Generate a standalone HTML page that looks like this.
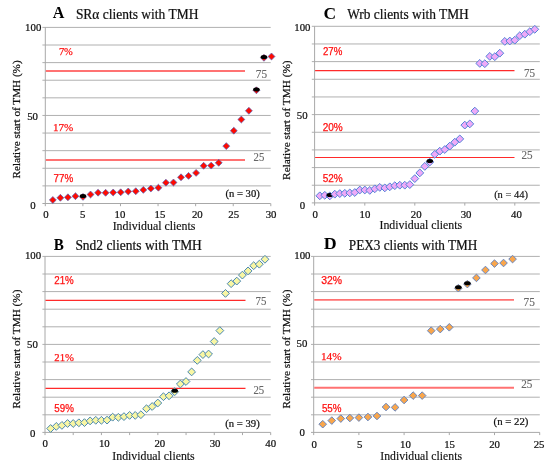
<!DOCTYPE html><html><head><meta charset="utf-8"><style>html,body{margin:0;padding:0;background:#fff;}svg{display:block;will-change:transform;}</style></head><body>
<svg width="550" height="468" viewBox="0 0 550 468">
<rect width="550" height="468" fill="#fff"/>
<line x1="42.4" y1="185.89" x2="270.7" y2="185.89" stroke="#b0b0b0" stroke-width="1"/>
<line x1="42.4" y1="168.28" x2="270.7" y2="168.28" stroke="#b0b0b0" stroke-width="1"/>
<line x1="42.4" y1="150.67" x2="270.7" y2="150.67" stroke="#b0b0b0" stroke-width="1"/>
<line x1="42.4" y1="133.06" x2="270.7" y2="133.06" stroke="#b0b0b0" stroke-width="1"/>
<line x1="42.4" y1="115.45" x2="270.7" y2="115.45" stroke="#b0b0b0" stroke-width="1"/>
<line x1="42.4" y1="97.84" x2="270.7" y2="97.84" stroke="#b0b0b0" stroke-width="1"/>
<line x1="42.4" y1="80.23" x2="270.7" y2="80.23" stroke="#b0b0b0" stroke-width="1"/>
<line x1="42.4" y1="62.62" x2="270.7" y2="62.62" stroke="#b0b0b0" stroke-width="1"/>
<line x1="42.4" y1="45.01" x2="270.7" y2="45.01" stroke="#b0b0b0" stroke-width="1"/>
<line x1="42.4" y1="27.4" x2="270.7" y2="27.4" stroke="#b0b0b0" stroke-width="1"/>
<line x1="42.4" y1="203.5" x2="270.7" y2="203.5" stroke="#a8a8a8" stroke-width="1"/>
<line x1="45.3" y1="27.4" x2="45.3" y2="206.2" stroke="#a8a8a8" stroke-width="1"/>
<line x1="82.88" y1="203.5" x2="82.88" y2="206.2" stroke="#a8a8a8" stroke-width="1"/>
<line x1="120.47" y1="203.5" x2="120.47" y2="206.2" stroke="#a8a8a8" stroke-width="1"/>
<line x1="158.05" y1="203.5" x2="158.05" y2="206.2" stroke="#a8a8a8" stroke-width="1"/>
<line x1="195.63" y1="203.5" x2="195.63" y2="206.2" stroke="#a8a8a8" stroke-width="1"/>
<line x1="233.22" y1="203.5" x2="233.22" y2="206.2" stroke="#a8a8a8" stroke-width="1"/>
<line x1="270.8" y1="203.5" x2="270.8" y2="206.2" stroke="#a8a8a8" stroke-width="1"/>
<line x1="45.8" y1="71" x2="245" y2="71" stroke="#ff7272" stroke-width="1.9"/>
<line x1="45.8" y1="160" x2="245" y2="160" stroke="#ff7272" stroke-width="1.9"/>
<text x="33.2" y="30.7" font-size="10.8" font-family='"Liberation Serif", serif' fill="#111" stroke="#111" stroke-width="0.22" text-anchor="middle">100</text>
<text x="32.6" y="119.5" font-size="10.8" font-family='"Liberation Serif", serif' fill="#111" stroke="#111" stroke-width="0.22" text-anchor="middle">50</text>
<text x="33.05" y="208.7" font-size="10.8" font-family='"Liberation Serif", serif' fill="#111" stroke="#111" stroke-width="0.22" text-anchor="middle">0</text>
<text x="45.9" y="218.1" font-size="10.8" font-family='"Liberation Serif", serif' fill="#111" stroke="#111" stroke-width="0.22" text-anchor="middle">0</text>
<text x="82.8" y="218.1" font-size="10.8" font-family='"Liberation Serif", serif' fill="#111" stroke="#111" stroke-width="0.22" text-anchor="middle">5</text>
<text x="120" y="218.1" font-size="10.8" font-family='"Liberation Serif", serif' fill="#111" stroke="#111" stroke-width="0.22" text-anchor="middle">10</text>
<text x="160" y="218.1" font-size="10.8" font-family='"Liberation Serif", serif' fill="#111" stroke="#111" stroke-width="0.22" text-anchor="middle">15</text>
<text x="197.3" y="218.1" font-size="10.8" font-family='"Liberation Serif", serif' fill="#111" stroke="#111" stroke-width="0.22" text-anchor="middle">20</text>
<text x="233.7" y="218.1" font-size="10.8" font-family='"Liberation Serif", serif' fill="#111" stroke="#111" stroke-width="0.22" text-anchor="middle">25</text>
<text x="271.1" y="218.1" font-size="10.8" font-family='"Liberation Serif", serif' fill="#111" stroke="#111" stroke-width="0.22" text-anchor="middle">30</text>
<text x="0" y="0" font-size="11.3" font-family='"Liberation Serif", serif' fill="#111" stroke="#111" stroke-width="0.22" textLength="118" lengthAdjust="spacingAndGlyphs" transform="translate(19.9,178.4) rotate(-90)">Relative start of TMH (%)</text>
<polygon points="52.84,196.55 56.29,200 52.84,203.45 49.39,200" fill="#ff0a00" stroke="#5a64b8" stroke-width="0.75"/>
<polygon points="60.38,194.35 63.83,197.8 60.38,201.25 56.93,197.8" fill="#ff0a00" stroke="#5a64b8" stroke-width="0.75"/>
<polygon points="67.92,193.85 71.37,197.3 67.92,200.75 64.47,197.3" fill="#ff0a00" stroke="#5a64b8" stroke-width="0.75"/>
<polygon points="75.46,192.75 78.91,196.2 75.46,199.65 72.01,196.2" fill="#ff0a00" stroke="#5a64b8" stroke-width="0.75"/>
<polygon points="83,193.45 86.45,196.9 83,200.35 79.55,196.9" fill="#ff0a00" stroke="#5a64b8" stroke-width="0.75"/>
<ellipse cx="83" cy="196" rx="3.3" ry="2.0" fill="#000"/>
<polygon points="90.54,191.05 93.99,194.5 90.54,197.95 87.09,194.5" fill="#ff0a00" stroke="#5a64b8" stroke-width="0.75"/>
<polygon points="98.08,189.25 101.53,192.7 98.08,196.15 94.63,192.7" fill="#ff0a00" stroke="#5a64b8" stroke-width="0.75"/>
<polygon points="105.62,189.35 109.07,192.8 105.62,196.25 102.17,192.8" fill="#ff0a00" stroke="#5a64b8" stroke-width="0.75"/>
<polygon points="113.16,189.05 116.61,192.5 113.16,195.95 109.71,192.5" fill="#ff0a00" stroke="#5a64b8" stroke-width="0.75"/>
<polygon points="120.7,188.85 124.15,192.3 120.7,195.75 117.25,192.3" fill="#ff0a00" stroke="#5a64b8" stroke-width="0.75"/>
<polygon points="128.24,188.05 131.69,191.5 128.24,194.95 124.79,191.5" fill="#ff0a00" stroke="#5a64b8" stroke-width="0.75"/>
<polygon points="135.78,187.75 139.23,191.2 135.78,194.65 132.33,191.2" fill="#ff0a00" stroke="#5a64b8" stroke-width="0.75"/>
<polygon points="143.32,186.45 146.77,189.9 143.32,193.35 139.87,189.9" fill="#ff0a00" stroke="#5a64b8" stroke-width="0.75"/>
<polygon points="150.86,185.05 154.31,188.5 150.86,191.95 147.41,188.5" fill="#ff0a00" stroke="#5a64b8" stroke-width="0.75"/>
<polygon points="158.4,184.25 161.85,187.7 158.4,191.15 154.95,187.7" fill="#ff0a00" stroke="#5a64b8" stroke-width="0.75"/>
<polygon points="165.94,179.25 169.39,182.7 165.94,186.15 162.49,182.7" fill="#ff0a00" stroke="#5a64b8" stroke-width="0.75"/>
<polygon points="173.48,179.05 176.93,182.5 173.48,185.95 170.03,182.5" fill="#ff0a00" stroke="#5a64b8" stroke-width="0.75"/>
<polygon points="181.02,173.85 184.47,177.3 181.02,180.75 177.57,177.3" fill="#ff0a00" stroke="#5a64b8" stroke-width="0.75"/>
<polygon points="188.56,172.45 192.01,175.9 188.56,179.35 185.11,175.9" fill="#ff0a00" stroke="#5a64b8" stroke-width="0.75"/>
<polygon points="196.1,169.45 199.55,172.9 196.1,176.35 192.65,172.9" fill="#ff0a00" stroke="#5a64b8" stroke-width="0.75"/>
<polygon points="203.64,162.35 207.09,165.8 203.64,169.25 200.19,165.8" fill="#ff0a00" stroke="#5a64b8" stroke-width="0.75"/>
<polygon points="211.18,162.15 214.63,165.6 211.18,169.05 207.73,165.6" fill="#ff0a00" stroke="#5a64b8" stroke-width="0.75"/>
<polygon points="218.72,159.35 222.17,162.8 218.72,166.25 215.27,162.8" fill="#ff0a00" stroke="#5a64b8" stroke-width="0.75"/>
<polygon points="226.26,142.65 229.71,146.1 226.26,149.55 222.81,146.1" fill="#ff0a00" stroke="#5a64b8" stroke-width="0.75"/>
<polygon points="233.8,127.25 237.25,130.7 233.8,134.15 230.35,130.7" fill="#ff0a00" stroke="#5a64b8" stroke-width="0.75"/>
<polygon points="241.34,116.05 244.79,119.5 241.34,122.95 237.89,119.5" fill="#ff0a00" stroke="#5a64b8" stroke-width="0.75"/>
<polygon points="248.88,107.35 252.33,110.8 248.88,114.25 245.43,110.8" fill="#ff0a00" stroke="#5a64b8" stroke-width="0.75"/>
<polygon points="256.42,86.85 259.87,90.3 256.42,93.75 252.97,90.3" fill="#ff0a00" stroke="#5a64b8" stroke-width="0.75"/>
<ellipse cx="256.42" cy="89.4" rx="3.3" ry="2.0" fill="#000"/>
<polygon points="263.96,54.35 267.41,57.8 263.96,61.25 260.51,57.8" fill="#ff0a00" stroke="#5a64b8" stroke-width="0.75"/>
<ellipse cx="263.96" cy="56.9" rx="3.3" ry="2.0" fill="#000"/>
<polygon points="271.5,53.05 274.95,56.5 271.5,59.95 268.05,56.5" fill="#ff0a00" stroke="#5a64b8" stroke-width="0.75"/>
<line x1="311.8" y1="185.24" x2="539.8" y2="185.24" stroke="#b0b0b0" stroke-width="1"/>
<line x1="311.8" y1="167.58" x2="539.8" y2="167.58" stroke="#b0b0b0" stroke-width="1"/>
<line x1="311.8" y1="149.92" x2="539.8" y2="149.92" stroke="#b0b0b0" stroke-width="1"/>
<line x1="311.8" y1="132.26" x2="539.8" y2="132.26" stroke="#b0b0b0" stroke-width="1"/>
<line x1="311.8" y1="114.6" x2="539.8" y2="114.6" stroke="#b0b0b0" stroke-width="1"/>
<line x1="311.8" y1="96.94" x2="539.8" y2="96.94" stroke="#b0b0b0" stroke-width="1"/>
<line x1="311.8" y1="79.28" x2="539.8" y2="79.28" stroke="#b0b0b0" stroke-width="1"/>
<line x1="311.8" y1="61.62" x2="539.8" y2="61.62" stroke="#b0b0b0" stroke-width="1"/>
<line x1="311.8" y1="43.96" x2="539.8" y2="43.96" stroke="#b0b0b0" stroke-width="1"/>
<line x1="311.8" y1="26.3" x2="539.8" y2="26.3" stroke="#b0b0b0" stroke-width="1"/>
<line x1="311.8" y1="202.9" x2="539.8" y2="202.9" stroke="#a8a8a8" stroke-width="1"/>
<line x1="314.6" y1="26.3" x2="314.6" y2="205.6" stroke="#a8a8a8" stroke-width="1"/>
<line x1="364.8" y1="202.9" x2="364.8" y2="205.6" stroke="#a8a8a8" stroke-width="1"/>
<line x1="414.8" y1="202.9" x2="414.8" y2="205.6" stroke="#a8a8a8" stroke-width="1"/>
<line x1="464.8" y1="202.9" x2="464.8" y2="205.6" stroke="#a8a8a8" stroke-width="1"/>
<line x1="514.8" y1="202.9" x2="514.8" y2="205.6" stroke="#a8a8a8" stroke-width="1"/>
<line x1="315.1" y1="70.6" x2="514.5" y2="70.6" stroke="#ff2a2a" stroke-width="1.2"/>
<line x1="315.1" y1="157.5" x2="514.5" y2="157.5" stroke="#ff2a2a" stroke-width="1.2"/>
<text x="302.4" y="30.5" font-size="10.8" font-family='"Liberation Serif", serif' fill="#111" stroke="#111" stroke-width="0.22" text-anchor="middle">100</text>
<text x="302.2" y="119.1" font-size="10.8" font-family='"Liberation Serif", serif' fill="#111" stroke="#111" stroke-width="0.22" text-anchor="middle">50</text>
<text x="302.5" y="208.6" font-size="10.8" font-family='"Liberation Serif", serif' fill="#111" stroke="#111" stroke-width="0.22" text-anchor="middle">0</text>
<text x="315.3" y="218.2" font-size="10.8" font-family='"Liberation Serif", serif' fill="#111" stroke="#111" stroke-width="0.22" text-anchor="middle">0</text>
<text x="365" y="218.2" font-size="10.8" font-family='"Liberation Serif", serif' fill="#111" stroke="#111" stroke-width="0.22" text-anchor="middle">10</text>
<text x="416.2" y="218.2" font-size="10.8" font-family='"Liberation Serif", serif' fill="#111" stroke="#111" stroke-width="0.22" text-anchor="middle">20</text>
<text x="466.1" y="218.2" font-size="10.8" font-family='"Liberation Serif", serif' fill="#111" stroke="#111" stroke-width="0.22" text-anchor="middle">30</text>
<text x="516.5" y="218.2" font-size="10.8" font-family='"Liberation Serif", serif' fill="#111" stroke="#111" stroke-width="0.22" text-anchor="middle">40</text>
<text x="0" y="0" font-size="11.3" font-family='"Liberation Serif", serif' fill="#111" stroke="#111" stroke-width="0.22" textLength="119.5" lengthAdjust="spacingAndGlyphs" transform="translate(289.9,179.9) rotate(-90)">Relative start of TMH (%)</text>
<polygon points="319.8,191.9 323.7,195.8 319.8,199.7 315.9,195.8" fill="#eeaaf8" stroke="#5382d8" stroke-width="1"/>
<polygon points="324.8,191.4 328.7,195.3 324.8,199.2 320.9,195.3" fill="#eeaaf8" stroke="#5382d8" stroke-width="1"/>
<polygon points="329.8,192 333.7,195.9 329.8,199.8 325.9,195.9" fill="#eeaaf8" stroke="#5382d8" stroke-width="1"/>
<ellipse cx="329.8" cy="195" rx="3.3" ry="2.0" fill="#000"/>
<polygon points="334.8,190.3 338.7,194.2 334.8,198.1 330.9,194.2" fill="#eeaaf8" stroke="#5382d8" stroke-width="1"/>
<polygon points="339.8,189.7 343.7,193.6 339.8,197.5 335.9,193.6" fill="#eeaaf8" stroke="#5382d8" stroke-width="1"/>
<polygon points="344.8,189.4 348.7,193.3 344.8,197.2 340.9,193.3" fill="#eeaaf8" stroke="#5382d8" stroke-width="1"/>
<polygon points="349.8,189 353.7,192.9 349.8,196.8 345.9,192.9" fill="#eeaaf8" stroke="#5382d8" stroke-width="1"/>
<polygon points="354.8,188.6 358.7,192.5 354.8,196.4 350.9,192.5" fill="#eeaaf8" stroke="#5382d8" stroke-width="1"/>
<polygon points="359.8,186.1 363.7,190 359.8,193.9 355.9,190" fill="#eeaaf8" stroke="#5382d8" stroke-width="1"/>
<polygon points="364.8,186.1 368.7,190 364.8,193.9 360.9,190" fill="#eeaaf8" stroke="#5382d8" stroke-width="1"/>
<polygon points="369.8,186.5 373.7,190.4 369.8,194.3 365.9,190.4" fill="#eeaaf8" stroke="#5382d8" stroke-width="1"/>
<polygon points="374.8,184.9 378.7,188.8 374.8,192.7 370.9,188.8" fill="#eeaaf8" stroke="#5382d8" stroke-width="1"/>
<polygon points="379.8,183.5 383.7,187.4 379.8,191.3 375.9,187.4" fill="#eeaaf8" stroke="#5382d8" stroke-width="1"/>
<polygon points="384.8,184 388.7,187.9 384.8,191.8 380.9,187.9" fill="#eeaaf8" stroke="#5382d8" stroke-width="1"/>
<polygon points="389.8,182.9 393.7,186.8 389.8,190.7 385.9,186.8" fill="#eeaaf8" stroke="#5382d8" stroke-width="1"/>
<polygon points="394.8,181.8 398.7,185.7 394.8,189.6 390.9,185.7" fill="#eeaaf8" stroke="#5382d8" stroke-width="1"/>
<polygon points="399.8,181.3 403.7,185.2 399.8,189.1 395.9,185.2" fill="#eeaaf8" stroke="#5382d8" stroke-width="1"/>
<polygon points="404.8,181.3 408.7,185.2 404.8,189.1 400.9,185.2" fill="#eeaaf8" stroke="#5382d8" stroke-width="1"/>
<polygon points="409.8,180.7 413.7,184.6 409.8,188.5 405.9,184.6" fill="#eeaaf8" stroke="#5382d8" stroke-width="1"/>
<polygon points="414.8,174.7 418.7,178.6 414.8,182.5 410.9,178.6" fill="#eeaaf8" stroke="#5382d8" stroke-width="1"/>
<polygon points="419.8,169 423.7,172.9 419.8,176.8 415.9,172.9" fill="#eeaaf8" stroke="#5382d8" stroke-width="1"/>
<polygon points="424.8,162.5 428.7,166.4 424.8,170.3 420.9,166.4" fill="#eeaaf8" stroke="#5382d8" stroke-width="1"/>
<polygon points="429.8,158.1 433.7,162 429.8,165.9 425.9,162" fill="#eeaaf8" stroke="#5382d8" stroke-width="1"/>
<ellipse cx="429.8" cy="161.1" rx="3.3" ry="2.0" fill="#000"/>
<polygon points="434.8,150.4 438.7,154.3 434.8,158.2 430.9,154.3" fill="#eeaaf8" stroke="#5382d8" stroke-width="1"/>
<polygon points="439.8,147.3 443.7,151.2 439.8,155.1 435.9,151.2" fill="#eeaaf8" stroke="#5382d8" stroke-width="1"/>
<polygon points="444.8,145.6 448.7,149.5 444.8,153.4 440.9,149.5" fill="#eeaaf8" stroke="#5382d8" stroke-width="1"/>
<polygon points="449.8,142.2 453.7,146.1 449.8,150 445.9,146.1" fill="#eeaaf8" stroke="#5382d8" stroke-width="1"/>
<polygon points="454.8,138.3 458.7,142.2 454.8,146.1 450.9,142.2" fill="#eeaaf8" stroke="#5382d8" stroke-width="1"/>
<polygon points="459.8,135 463.7,138.9 459.8,142.8 455.9,138.9" fill="#eeaaf8" stroke="#5382d8" stroke-width="1"/>
<polygon points="464.8,121.2 468.7,125.1 464.8,129 460.9,125.1" fill="#eeaaf8" stroke="#5382d8" stroke-width="1"/>
<polygon points="469.8,120 473.7,123.9 469.8,127.8 465.9,123.9" fill="#eeaaf8" stroke="#5382d8" stroke-width="1"/>
<polygon points="474.8,107.2 478.7,111.1 474.8,115 470.9,111.1" fill="#eeaaf8" stroke="#5382d8" stroke-width="1"/>
<polygon points="479.8,59.5 483.7,63.4 479.8,67.3 475.9,63.4" fill="#eeaaf8" stroke="#5382d8" stroke-width="1"/>
<polygon points="484.8,59.8 488.7,63.7 484.8,67.6 480.9,63.7" fill="#eeaaf8" stroke="#5382d8" stroke-width="1"/>
<polygon points="489.8,52.5 493.7,56.4 489.8,60.3 485.9,56.4" fill="#eeaaf8" stroke="#5382d8" stroke-width="1"/>
<polygon points="494.8,52.8 498.7,56.7 494.8,60.6 490.9,56.7" fill="#eeaaf8" stroke="#5382d8" stroke-width="1"/>
<polygon points="499.8,49.3 503.7,53.2 499.8,57.1 495.9,53.2" fill="#eeaaf8" stroke="#5382d8" stroke-width="1"/>
<polygon points="504.8,37.5 508.7,41.4 504.8,45.3 500.9,41.4" fill="#eeaaf8" stroke="#5382d8" stroke-width="1"/>
<polygon points="509.8,37.1 513.7,41 509.8,44.9 505.9,41" fill="#eeaaf8" stroke="#5382d8" stroke-width="1"/>
<polygon points="514.8,36.3 518.7,40.2 514.8,44.1 510.9,40.2" fill="#eeaaf8" stroke="#5382d8" stroke-width="1"/>
<polygon points="519.8,31.8 523.7,35.7 519.8,39.6 515.9,35.7" fill="#eeaaf8" stroke="#5382d8" stroke-width="1"/>
<polygon points="524.8,30.3 528.7,34.2 524.8,38.1 520.9,34.2" fill="#eeaaf8" stroke="#5382d8" stroke-width="1"/>
<polygon points="529.8,27.8 533.7,31.7 529.8,35.6 525.9,31.7" fill="#eeaaf8" stroke="#5382d8" stroke-width="1"/>
<polygon points="534.8,25.4 538.7,29.3 534.8,33.2 530.9,29.3" fill="#eeaaf8" stroke="#5382d8" stroke-width="1"/>
<line x1="42.4" y1="414.8" x2="270.7" y2="414.8" stroke="#b0b0b0" stroke-width="1"/>
<line x1="42.4" y1="397.2" x2="270.7" y2="397.2" stroke="#b0b0b0" stroke-width="1"/>
<line x1="42.4" y1="379.6" x2="270.7" y2="379.6" stroke="#b0b0b0" stroke-width="1"/>
<line x1="42.4" y1="362" x2="270.7" y2="362" stroke="#b0b0b0" stroke-width="1"/>
<line x1="42.4" y1="344.4" x2="270.7" y2="344.4" stroke="#b0b0b0" stroke-width="1"/>
<line x1="42.4" y1="326.8" x2="270.7" y2="326.8" stroke="#b0b0b0" stroke-width="1"/>
<line x1="42.4" y1="309.2" x2="270.7" y2="309.2" stroke="#b0b0b0" stroke-width="1"/>
<line x1="42.4" y1="291.6" x2="270.7" y2="291.6" stroke="#b0b0b0" stroke-width="1"/>
<line x1="42.4" y1="274" x2="270.7" y2="274" stroke="#b0b0b0" stroke-width="1"/>
<line x1="42.4" y1="256.4" x2="270.7" y2="256.4" stroke="#b0b0b0" stroke-width="1"/>
<line x1="42.4" y1="432.4" x2="270.7" y2="432.4" stroke="#a8a8a8" stroke-width="1"/>
<line x1="45" y1="256.4" x2="45" y2="435.1" stroke="#a8a8a8" stroke-width="1"/>
<line x1="73.21" y1="432.4" x2="73.21" y2="435.1" stroke="#a8a8a8" stroke-width="1"/>
<line x1="101.42" y1="432.4" x2="101.42" y2="435.1" stroke="#a8a8a8" stroke-width="1"/>
<line x1="129.64" y1="432.4" x2="129.64" y2="435.1" stroke="#a8a8a8" stroke-width="1"/>
<line x1="157.85" y1="432.4" x2="157.85" y2="435.1" stroke="#a8a8a8" stroke-width="1"/>
<line x1="186.06" y1="432.4" x2="186.06" y2="435.1" stroke="#a8a8a8" stroke-width="1"/>
<line x1="214.28" y1="432.4" x2="214.28" y2="435.1" stroke="#a8a8a8" stroke-width="1"/>
<line x1="242.49" y1="432.4" x2="242.49" y2="435.1" stroke="#a8a8a8" stroke-width="1"/>
<line x1="270.7" y1="432.4" x2="270.7" y2="435.1" stroke="#a8a8a8" stroke-width="1"/>
<line x1="45.5" y1="300.3" x2="245.5" y2="300.3" stroke="#ff2a2a" stroke-width="1.2"/>
<line x1="45.5" y1="388.3" x2="245.5" y2="388.3" stroke="#ff2a2a" stroke-width="1.2"/>
<text x="33" y="258.8" font-size="10.8" font-family='"Liberation Serif", serif' fill="#111" stroke="#111" stroke-width="0.22" text-anchor="middle">100</text>
<text x="32.4" y="347.5" font-size="10.8" font-family='"Liberation Serif", serif' fill="#111" stroke="#111" stroke-width="0.22" text-anchor="middle">50</text>
<text x="32.7" y="436.6" font-size="10.8" font-family='"Liberation Serif", serif' fill="#111" stroke="#111" stroke-width="0.22" text-anchor="middle">0</text>
<text x="45.2" y="447.4" font-size="10.8" font-family='"Liberation Serif", serif' fill="#111" stroke="#111" stroke-width="0.22" text-anchor="middle">0</text>
<text x="104.3" y="447.4" font-size="10.8" font-family='"Liberation Serif", serif' fill="#111" stroke="#111" stroke-width="0.22" text-anchor="middle">10</text>
<text x="159.8" y="447.4" font-size="10.8" font-family='"Liberation Serif", serif' fill="#111" stroke="#111" stroke-width="0.22" text-anchor="middle">20</text>
<text x="215.1" y="447.4" font-size="10.8" font-family='"Liberation Serif", serif' fill="#111" stroke="#111" stroke-width="0.22" text-anchor="middle">30</text>
<text x="270.7" y="447.4" font-size="10.8" font-family='"Liberation Serif", serif' fill="#111" stroke="#111" stroke-width="0.22" text-anchor="middle">40</text>
<text x="0" y="0" font-size="11.3" font-family='"Liberation Serif", serif' fill="#111" stroke="#111" stroke-width="0.22" textLength="118.8" lengthAdjust="spacingAndGlyphs" transform="translate(19.9,408.4) rotate(-90)">Relative start of TMH (%)</text>
<polygon points="50.64,424.6 54.54,428.5 50.64,432.4 46.74,428.5" fill="#f8f6a4" stroke="#4a88b0" stroke-width="1"/>
<polygon points="56.28,422.5 60.18,426.4 56.28,430.3 52.38,426.4" fill="#f8f6a4" stroke="#4a88b0" stroke-width="1"/>
<polygon points="61.92,421.5 65.82,425.4 61.92,429.3 58.02,425.4" fill="#f8f6a4" stroke="#4a88b0" stroke-width="1"/>
<polygon points="67.56,419.6 71.46,423.5 67.56,427.4 63.66,423.5" fill="#f8f6a4" stroke="#4a88b0" stroke-width="1"/>
<polygon points="73.2,419.6 77.1,423.5 73.2,427.4 69.3,423.5" fill="#f8f6a4" stroke="#4a88b0" stroke-width="1"/>
<polygon points="78.84,418.9 82.74,422.8 78.84,426.7 74.94,422.8" fill="#f8f6a4" stroke="#4a88b0" stroke-width="1"/>
<polygon points="84.48,418.7 88.38,422.6 84.48,426.5 80.58,422.6" fill="#f8f6a4" stroke="#4a88b0" stroke-width="1"/>
<polygon points="90.12,417 94.02,420.9 90.12,424.8 86.22,420.9" fill="#f8f6a4" stroke="#4a88b0" stroke-width="1"/>
<polygon points="95.76,416.4 99.66,420.3 95.76,424.2 91.86,420.3" fill="#f8f6a4" stroke="#4a88b0" stroke-width="1"/>
<polygon points="101.4,416.4 105.3,420.3 101.4,424.2 97.5,420.3" fill="#f8f6a4" stroke="#4a88b0" stroke-width="1"/>
<polygon points="107.04,416.2 110.94,420.1 107.04,424 103.14,420.1" fill="#f8f6a4" stroke="#4a88b0" stroke-width="1"/>
<polygon points="112.68,413.3 116.58,417.2 112.68,421.1 108.78,417.2" fill="#f8f6a4" stroke="#4a88b0" stroke-width="1"/>
<polygon points="118.32,413.4 122.22,417.3 118.32,421.2 114.42,417.3" fill="#f8f6a4" stroke="#4a88b0" stroke-width="1"/>
<polygon points="123.96,412.7 127.86,416.6 123.96,420.5 120.06,416.6" fill="#f8f6a4" stroke="#4a88b0" stroke-width="1"/>
<polygon points="129.6,411.5 133.5,415.4 129.6,419.3 125.7,415.4" fill="#f8f6a4" stroke="#4a88b0" stroke-width="1"/>
<polygon points="135.24,411.5 139.14,415.4 135.24,419.3 131.34,415.4" fill="#f8f6a4" stroke="#4a88b0" stroke-width="1"/>
<polygon points="140.88,410.8 144.78,414.7 140.88,418.6 136.98,414.7" fill="#f8f6a4" stroke="#4a88b0" stroke-width="1"/>
<polygon points="146.52,404.8 150.42,408.7 146.52,412.6 142.62,408.7" fill="#f8f6a4" stroke="#4a88b0" stroke-width="1"/>
<polygon points="152.16,402.6 156.06,406.5 152.16,410.4 148.26,406.5" fill="#f8f6a4" stroke="#4a88b0" stroke-width="1"/>
<polygon points="157.8,399.1 161.7,403 157.8,406.9 153.9,403" fill="#f8f6a4" stroke="#4a88b0" stroke-width="1"/>
<polygon points="163.44,392.8 167.34,396.7 163.44,400.6 159.54,396.7" fill="#f8f6a4" stroke="#4a88b0" stroke-width="1"/>
<polygon points="169.08,391.9 172.98,395.8 169.08,399.7 165.18,395.8" fill="#f8f6a4" stroke="#4a88b0" stroke-width="1"/>
<polygon points="174.72,387.8 178.62,391.7 174.72,395.6 170.82,391.7" fill="#f8f6a4" stroke="#4a88b0" stroke-width="1"/>
<ellipse cx="174.72" cy="390.8" rx="3.3" ry="2.0" fill="#000"/>
<polygon points="180.36,380.1 184.26,384 180.36,387.9 176.46,384" fill="#f8f6a4" stroke="#4a88b0" stroke-width="1"/>
<polygon points="186,377.6 189.9,381.5 186,385.4 182.1,381.5" fill="#f8f6a4" stroke="#4a88b0" stroke-width="1"/>
<polygon points="191.64,368 195.54,371.9 191.64,375.8 187.74,371.9" fill="#f8f6a4" stroke="#4a88b0" stroke-width="1"/>
<polygon points="197.28,356.5 201.18,360.4 197.28,364.3 193.38,360.4" fill="#f8f6a4" stroke="#4a88b0" stroke-width="1"/>
<polygon points="202.92,350.7 206.82,354.6 202.92,358.5 199.02,354.6" fill="#f8f6a4" stroke="#4a88b0" stroke-width="1"/>
<polygon points="208.56,350.1 212.46,354 208.56,357.9 204.66,354" fill="#f8f6a4" stroke="#4a88b0" stroke-width="1"/>
<polygon points="214.2,337.6 218.1,341.5 214.2,345.4 210.3,341.5" fill="#f8f6a4" stroke="#4a88b0" stroke-width="1"/>
<polygon points="219.84,326.7 223.74,330.6 219.84,334.5 215.94,330.6" fill="#f8f6a4" stroke="#4a88b0" stroke-width="1"/>
<polygon points="225.48,289.5 229.38,293.4 225.48,297.3 221.58,293.4" fill="#f8f6a4" stroke="#4a88b0" stroke-width="1"/>
<polygon points="231.12,279.8 235.02,283.7 231.12,287.6 227.22,283.7" fill="#f8f6a4" stroke="#4a88b0" stroke-width="1"/>
<polygon points="236.76,277.2 240.66,281.1 236.76,285 232.86,281.1" fill="#f8f6a4" stroke="#4a88b0" stroke-width="1"/>
<polygon points="242.4,271.2 246.3,275.1 242.4,279 238.5,275.1" fill="#f8f6a4" stroke="#4a88b0" stroke-width="1"/>
<polygon points="248.04,267 251.94,270.9 248.04,274.8 244.14,270.9" fill="#f8f6a4" stroke="#4a88b0" stroke-width="1"/>
<polygon points="253.68,261.8 257.58,265.7 253.68,269.6 249.78,265.7" fill="#f8f6a4" stroke="#4a88b0" stroke-width="1"/>
<polygon points="259.32,260.3 263.22,264.2 259.32,268.1 255.42,264.2" fill="#f8f6a4" stroke="#4a88b0" stroke-width="1"/>
<polygon points="264.96,255.4 268.86,259.3 264.96,263.2 261.06,259.3" fill="#f8f6a4" stroke="#4a88b0" stroke-width="1"/>
<line x1="311" y1="414.8" x2="539.8" y2="414.8" stroke="#b0b0b0" stroke-width="1"/>
<line x1="311" y1="397.2" x2="539.8" y2="397.2" stroke="#b0b0b0" stroke-width="1"/>
<line x1="311" y1="379.6" x2="539.8" y2="379.6" stroke="#b0b0b0" stroke-width="1"/>
<line x1="311" y1="362" x2="539.8" y2="362" stroke="#b0b0b0" stroke-width="1"/>
<line x1="311" y1="344.4" x2="539.8" y2="344.4" stroke="#b0b0b0" stroke-width="1"/>
<line x1="311" y1="326.8" x2="539.8" y2="326.8" stroke="#b0b0b0" stroke-width="1"/>
<line x1="311" y1="309.2" x2="539.8" y2="309.2" stroke="#b0b0b0" stroke-width="1"/>
<line x1="311" y1="291.6" x2="539.8" y2="291.6" stroke="#b0b0b0" stroke-width="1"/>
<line x1="311" y1="274" x2="539.8" y2="274" stroke="#b0b0b0" stroke-width="1"/>
<line x1="311" y1="256.4" x2="539.8" y2="256.4" stroke="#b0b0b0" stroke-width="1"/>
<line x1="311" y1="432.4" x2="539.8" y2="432.4" stroke="#a8a8a8" stroke-width="1"/>
<line x1="313.7" y1="256.4" x2="313.7" y2="435.1" stroke="#a8a8a8" stroke-width="1"/>
<line x1="358.9" y1="432.4" x2="358.9" y2="435.1" stroke="#a8a8a8" stroke-width="1"/>
<line x1="404.1" y1="432.4" x2="404.1" y2="435.1" stroke="#a8a8a8" stroke-width="1"/>
<line x1="449.3" y1="432.4" x2="449.3" y2="435.1" stroke="#a8a8a8" stroke-width="1"/>
<line x1="494.5" y1="432.4" x2="494.5" y2="435.1" stroke="#a8a8a8" stroke-width="1"/>
<line x1="539.7" y1="432.4" x2="539.7" y2="435.1" stroke="#a8a8a8" stroke-width="1"/>
<line x1="314.2" y1="299.9" x2="514" y2="299.9" stroke="#ff7272" stroke-width="1.9"/>
<line x1="314.2" y1="387.7" x2="514" y2="387.7" stroke="#ff7272" stroke-width="1.9"/>
<text x="302.4" y="258.6" font-size="10.8" font-family='"Liberation Serif", serif' fill="#111" stroke="#111" stroke-width="0.22" text-anchor="middle">100</text>
<text x="302" y="347.4" font-size="10.8" font-family='"Liberation Serif", serif' fill="#111" stroke="#111" stroke-width="0.22" text-anchor="middle">50</text>
<text x="302.1" y="436.4" font-size="10.8" font-family='"Liberation Serif", serif' fill="#111" stroke="#111" stroke-width="0.22" text-anchor="middle">0</text>
<text x="314.3" y="447.5" font-size="10.8" font-family='"Liberation Serif", serif' fill="#111" stroke="#111" stroke-width="0.22" text-anchor="middle">0</text>
<text x="359.6" y="447.5" font-size="10.8" font-family='"Liberation Serif", serif' fill="#111" stroke="#111" stroke-width="0.22" text-anchor="middle">5</text>
<text x="405.4" y="447.5" font-size="10.8" font-family='"Liberation Serif", serif' fill="#111" stroke="#111" stroke-width="0.22" text-anchor="middle">10</text>
<text x="449.6" y="447.5" font-size="10.8" font-family='"Liberation Serif", serif' fill="#111" stroke="#111" stroke-width="0.22" text-anchor="middle">15</text>
<text x="494.6" y="447.5" font-size="10.8" font-family='"Liberation Serif", serif' fill="#111" stroke="#111" stroke-width="0.22" text-anchor="middle">20</text>
<text x="539.1" y="447.5" font-size="10.8" font-family='"Liberation Serif", serif' fill="#111" stroke="#111" stroke-width="0.22" text-anchor="middle">25</text>
<text x="0" y="0" font-size="11.3" font-family='"Liberation Serif", serif' fill="#111" stroke="#111" stroke-width="0.22" textLength="118.8" lengthAdjust="spacingAndGlyphs" transform="translate(289.9,408.4) rotate(-90)">Relative start of TMH (%)</text>
<polygon points="322.74,420.4 326.54,424.2 322.74,428 318.94,424.2" fill="#f9a64c" stroke="#6787c2" stroke-width="1"/>
<polygon points="331.78,416.8 335.58,420.6 331.78,424.4 327.98,420.6" fill="#f9a64c" stroke="#6787c2" stroke-width="1"/>
<polygon points="340.82,414.8 344.62,418.6 340.82,422.4 337.02,418.6" fill="#f9a64c" stroke="#6787c2" stroke-width="1"/>
<polygon points="349.86,414.2 353.66,418 349.86,421.8 346.06,418" fill="#f9a64c" stroke="#6787c2" stroke-width="1"/>
<polygon points="358.9,413.8 362.7,417.6 358.9,421.4 355.1,417.6" fill="#f9a64c" stroke="#6787c2" stroke-width="1"/>
<polygon points="367.94,413.2 371.74,417 367.94,420.8 364.14,417" fill="#f9a64c" stroke="#6787c2" stroke-width="1"/>
<polygon points="376.98,412.2 380.78,416 376.98,419.8 373.18,416" fill="#f9a64c" stroke="#6787c2" stroke-width="1"/>
<polygon points="386.02,403.2 389.82,407 386.02,410.8 382.22,407" fill="#f9a64c" stroke="#6787c2" stroke-width="1"/>
<polygon points="395.06,403.6 398.86,407.4 395.06,411.2 391.26,407.4" fill="#f9a64c" stroke="#6787c2" stroke-width="1"/>
<polygon points="404.1,396.2 407.9,400 404.1,403.8 400.3,400" fill="#f9a64c" stroke="#6787c2" stroke-width="1"/>
<polygon points="413.14,391.8 416.94,395.6 413.14,399.4 409.34,395.6" fill="#f9a64c" stroke="#6787c2" stroke-width="1"/>
<polygon points="422.18,391.8 425.98,395.6 422.18,399.4 418.38,395.6" fill="#f9a64c" stroke="#6787c2" stroke-width="1"/>
<polygon points="431.22,326.9 435.02,330.7 431.22,334.5 427.42,330.7" fill="#f9a64c" stroke="#6787c2" stroke-width="1"/>
<polygon points="440.26,325.3 444.06,329.1 440.26,332.9 436.46,329.1" fill="#f9a64c" stroke="#6787c2" stroke-width="1"/>
<polygon points="449.3,323.5 453.1,327.3 449.3,331.1 445.5,327.3" fill="#f9a64c" stroke="#6787c2" stroke-width="1"/>
<polygon points="458.34,284.4 462.14,288.2 458.34,292 454.54,288.2" fill="#f9a64c" stroke="#6787c2" stroke-width="1"/>
<ellipse cx="458.34" cy="287.3" rx="3.3" ry="2.0" fill="#000"/>
<polygon points="467.38,280.3 471.18,284.1 467.38,287.9 463.58,284.1" fill="#f9a64c" stroke="#6787c2" stroke-width="1"/>
<ellipse cx="467.38" cy="283.2" rx="3.3" ry="2.0" fill="#000"/>
<polygon points="476.42,274.1 480.22,277.9 476.42,281.7 472.62,277.9" fill="#f9a64c" stroke="#6787c2" stroke-width="1"/>
<polygon points="485.46,266.2 489.26,270 485.46,273.8 481.66,270" fill="#f9a64c" stroke="#6787c2" stroke-width="1"/>
<polygon points="494.5,259.8 498.3,263.6 494.5,267.4 490.7,263.6" fill="#f9a64c" stroke="#6787c2" stroke-width="1"/>
<polygon points="503.54,259.2 507.34,263 503.54,266.8 499.74,263" fill="#f9a64c" stroke="#6787c2" stroke-width="1"/>
<polygon points="512.58,255.3 516.38,259.1 512.58,262.9 508.78,259.1" fill="#f9a64c" stroke="#6787c2" stroke-width="1"/>
<text x="75.89" y="18.9" font-size="13.8" font-family='"Liberation Serif", serif' fill="#111" stroke="#111" stroke-width="0.22" textLength="122.52" lengthAdjust="spacingAndGlyphs">SRα clients with TMH</text>
<text x="347.18" y="18.9" font-size="13.8" font-family='"Liberation Serif", serif' fill="#111" stroke="#111" stroke-width="0.22" textLength="121.58" lengthAdjust="spacingAndGlyphs">Wrb clients with TMH</text>
<text x="75.38" y="250.2" font-size="13.8" font-family='"Liberation Serif", serif' fill="#111" stroke="#111" stroke-width="0.22" textLength="126.45" lengthAdjust="spacingAndGlyphs">Snd2 clients with TMH</text>
<text x="348.81" y="249.6" font-size="13.8" font-family='"Liberation Serif", serif' fill="#111" stroke="#111" stroke-width="0.22" textLength="128.61" lengthAdjust="spacingAndGlyphs">PEX3 clients with TMH</text>
<text x="52.86" y="18" font-size="16" font-family='"Liberation Serif", serif' fill="#000" font-weight="bold" textLength="11.63" lengthAdjust="spacingAndGlyphs">A</text>
<text x="323.42" y="18.6" font-size="16" font-family='"Liberation Serif", serif' fill="#000" font-weight="bold" textLength="12.61" lengthAdjust="spacingAndGlyphs">C</text>
<text x="53.77" y="249.5" font-size="16" font-family='"Liberation Serif", serif' fill="#000" font-weight="bold" textLength="10.09" lengthAdjust="spacingAndGlyphs">B</text>
<text x="323.69" y="249.1" font-size="16" font-family='"Liberation Serif", serif' fill="#000" font-weight="bold" textLength="12.92" lengthAdjust="spacingAndGlyphs">D</text>
<text x="112.66" y="229.8" font-size="12" font-family='"Liberation Serif", serif' fill="#111" stroke="#111" stroke-width="0.15" textLength="82.83" lengthAdjust="spacingAndGlyphs">Individual clients</text>
<text x="379.45" y="228.7" font-size="12" font-family='"Liberation Serif", serif' fill="#111" stroke="#111" stroke-width="0.15" textLength="82.69" lengthAdjust="spacingAndGlyphs">Individual clients</text>
<text x="112.3" y="459.5" font-size="12" font-family='"Liberation Serif", serif' fill="#111" stroke="#111" stroke-width="0.15" textLength="82.42" lengthAdjust="spacingAndGlyphs">Individual clients</text>
<text x="380.3" y="460.3" font-size="12" font-family='"Liberation Serif", serif' fill="#111" stroke="#111" stroke-width="0.15" textLength="81.65" lengthAdjust="spacingAndGlyphs">Individual clients</text>
<text x="225.45" y="197.4" font-size="10.6" font-family='"Liberation Serif", serif' fill="#111" stroke="#111" stroke-width="0.22" textLength="34.32" lengthAdjust="spacingAndGlyphs">(n = 30)</text>
<text x="494.13" y="197.9" font-size="10.6" font-family='"Liberation Serif", serif' fill="#111" stroke="#111" stroke-width="0.18" textLength="33.93" lengthAdjust="spacingAndGlyphs">(n = 44)</text>
<text x="225.32" y="427.1" font-size="10.6" font-family='"Liberation Serif", serif' fill="#111" stroke="#111" stroke-width="0.22" textLength="34.42" lengthAdjust="spacingAndGlyphs">(n = 39)</text>
<text x="493.59" y="425.4" font-size="10.6" font-family='"Liberation Serif", serif' fill="#111" stroke="#111" stroke-width="0.22" textLength="34.86" lengthAdjust="spacingAndGlyphs">(n = 22)</text>
<text x="58.88" y="54.7" font-size="11.3" font-family='"Liberation Serif", serif' fill="#ff1010" stroke="#ff1010" stroke-width="0.25" textLength="13.97" lengthAdjust="spacingAndGlyphs">7%</text>
<text x="53.01" y="130.7" font-size="11.3" font-family='"Liberation Serif", serif' fill="#ff1010" stroke="#ff1010" stroke-width="0.25" textLength="20.3" lengthAdjust="spacingAndGlyphs">17%</text>
<text x="53.47" y="181.8" font-size="10.4" font-family='"Liberation Sans", sans-serif' fill="#ff1010" stroke="#ff1010" stroke-width="0.25" textLength="19.65" lengthAdjust="spacingAndGlyphs">77%</text>
<text x="322.92" y="54.7" font-size="10.4" font-family='"Liberation Sans", sans-serif' fill="#ff1010" stroke="#ff1010" stroke-width="0.25" textLength="19.36" lengthAdjust="spacingAndGlyphs">27%</text>
<text x="322.65" y="130.6" font-size="10.4" font-family='"Liberation Sans", sans-serif' fill="#ff1010" stroke="#ff1010" stroke-width="0.25" textLength="20.07" lengthAdjust="spacingAndGlyphs">20%</text>
<text x="322.65" y="182.1" font-size="10.4" font-family='"Liberation Sans", sans-serif' fill="#ff1010" stroke="#ff1010" stroke-width="0.25" textLength="20.05" lengthAdjust="spacingAndGlyphs">52%</text>
<text x="54.29" y="284.2" font-size="10.4" font-family='"Liberation Sans", sans-serif' fill="#ff1010" stroke="#ff1010" stroke-width="0.25" textLength="19.48" lengthAdjust="spacingAndGlyphs">21%</text>
<text x="54.33" y="361" font-size="11.3" font-family='"Liberation Serif", serif' fill="#ff1010" stroke="#ff1010" stroke-width="0.25" textLength="19.65" lengthAdjust="spacingAndGlyphs">21%</text>
<text x="54.3" y="411.9" font-size="10.4" font-family='"Liberation Sans", sans-serif' fill="#ff1010" stroke="#ff1010" stroke-width="0.25" textLength="19.57" lengthAdjust="spacingAndGlyphs">59%</text>
<text x="321.28" y="283.8" font-size="10.4" font-family='"Liberation Sans", sans-serif' fill="#ff1010" stroke="#ff1010" stroke-width="0.25" textLength="20.81" lengthAdjust="spacingAndGlyphs">32%</text>
<text x="320.96" y="359.8" font-size="11.3" font-family='"Liberation Serif", serif' fill="#ff1010" stroke="#ff1010" stroke-width="0.25" textLength="20.63" lengthAdjust="spacingAndGlyphs">14%</text>
<text x="321.91" y="411.6" font-size="10.4" font-family='"Liberation Sans", sans-serif' fill="#ff1010" stroke="#ff1010" stroke-width="0.25" textLength="19.59" lengthAdjust="spacingAndGlyphs">55%</text>
<text x="255.78" y="78.1" font-size="11.6" font-family='"Liberation Serif", serif' fill="#666" stroke="#666" stroke-width="0.12" textLength="11.25" lengthAdjust="spacingAndGlyphs">75</text>
<text x="253.58" y="160.5" font-size="11.6" font-family='"Liberation Serif", serif' fill="#666" stroke="#666" stroke-width="0.12" textLength="10.74" lengthAdjust="spacingAndGlyphs">25</text>
<text x="523.97" y="77.1" font-size="11.6" font-family='"Liberation Serif", serif' fill="#666" stroke="#666" stroke-width="0.12" textLength="11.1" lengthAdjust="spacingAndGlyphs">75</text>
<text x="521.48" y="159.4" font-size="11.6" font-family='"Liberation Serif", serif' fill="#666" stroke="#666" stroke-width="0.12" textLength="11.13" lengthAdjust="spacingAndGlyphs">25</text>
<text x="255.52" y="305.2" font-size="11.6" font-family='"Liberation Serif", serif' fill="#666" stroke="#666" stroke-width="0.12" textLength="10.86" lengthAdjust="spacingAndGlyphs">75</text>
<text x="253.43" y="393.6" font-size="11.6" font-family='"Liberation Serif", serif' fill="#666" stroke="#666" stroke-width="0.12" textLength="10.77" lengthAdjust="spacingAndGlyphs">25</text>
<text x="523.46" y="305.8" font-size="11.6" font-family='"Liberation Serif", serif' fill="#666" stroke="#666" stroke-width="0.12" textLength="11.37" lengthAdjust="spacingAndGlyphs">75</text>
<text x="521.17" y="388.4" font-size="11.6" font-family='"Liberation Serif", serif' fill="#666" stroke="#666" stroke-width="0.12" textLength="11.18" lengthAdjust="spacingAndGlyphs">25</text>
</svg></body></html>
